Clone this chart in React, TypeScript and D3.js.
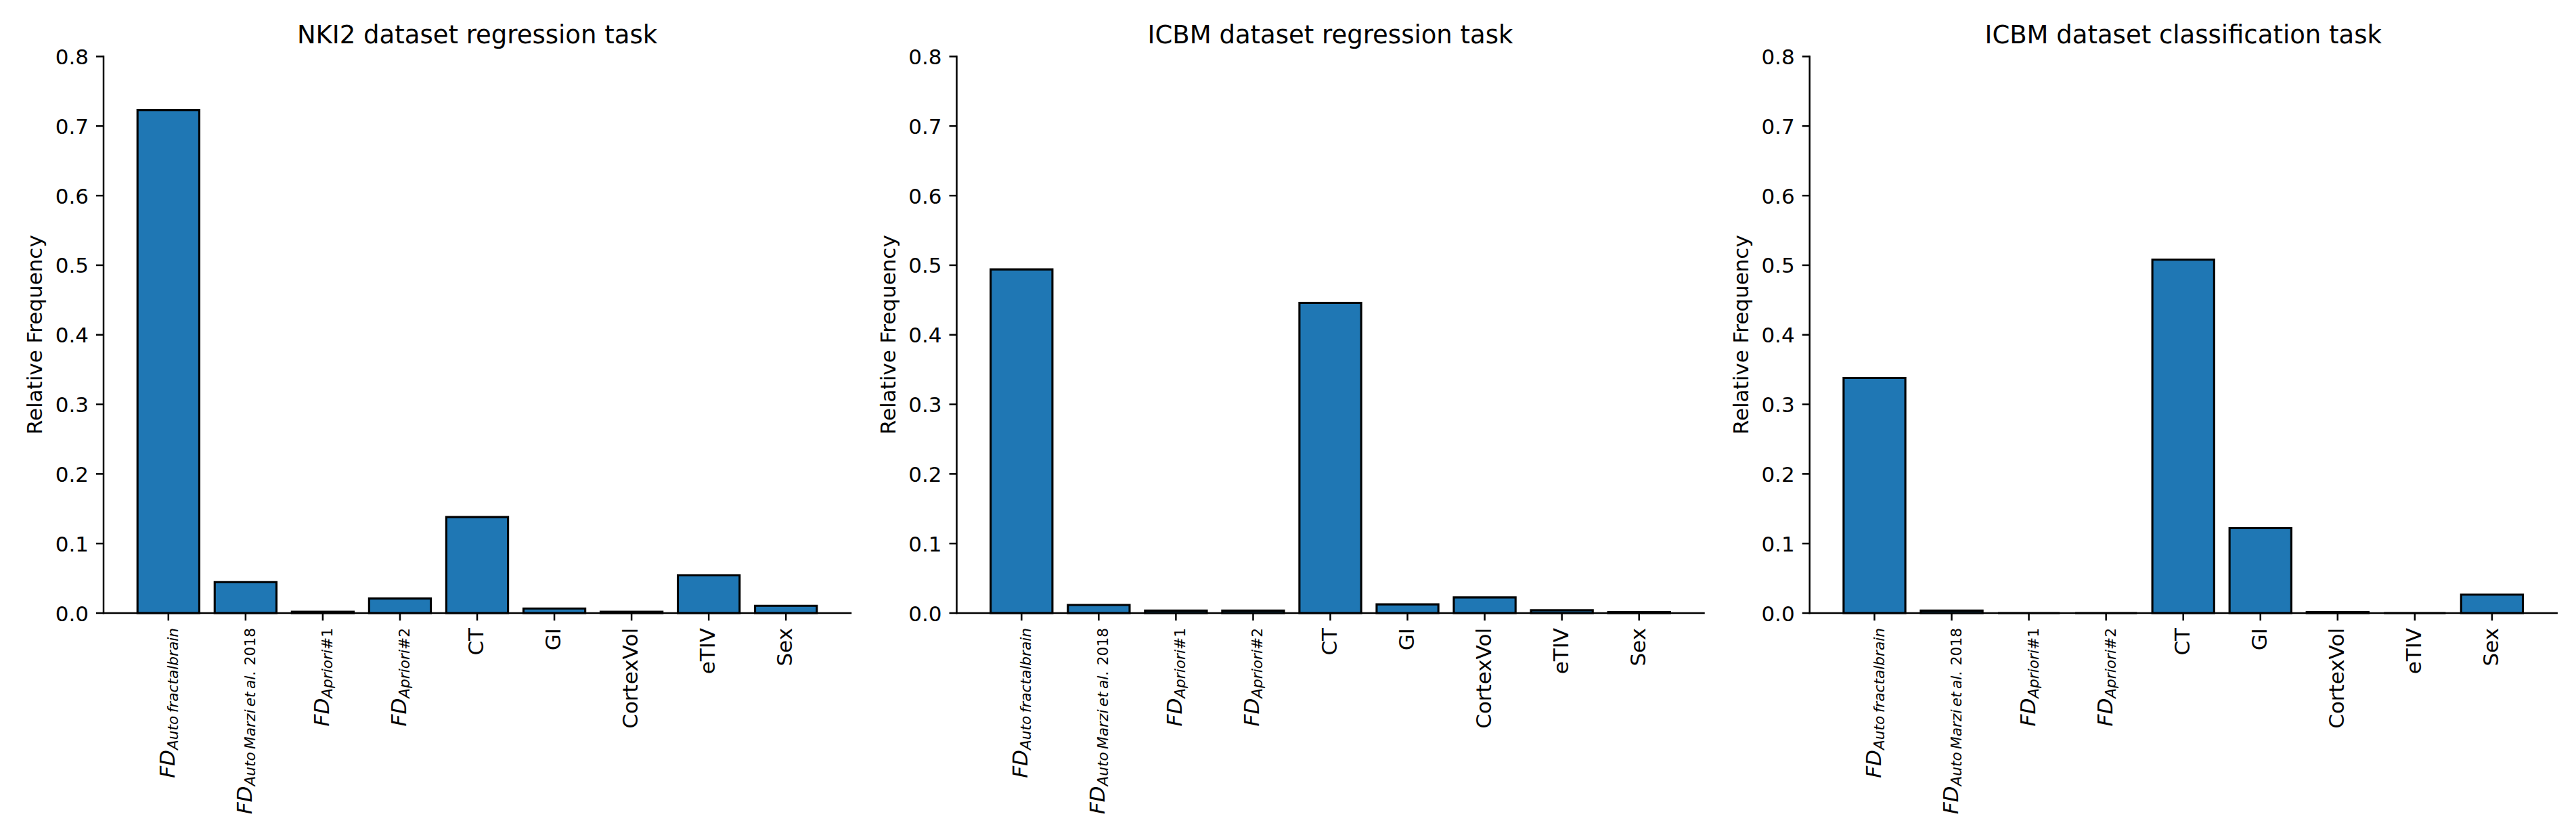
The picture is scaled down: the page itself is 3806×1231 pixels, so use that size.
import React from "react";
import * as d3 from "d3";

// ---------- data ----------
const categories = [
  "FD_Auto_fractalbrain",
  "FD_Auto_Marzi",
  "FD_Apriori1",
  "FD_Apriori2",
  "CT",
  "GI",
  "CortexVol",
  "eTIV",
  "Sex",
];

const panelTitles = [
  "NKI2 dataset regression task",
  "ICBM dataset regression task",
  "ICBM dataset classification task",
];

const nki2Regression = [0.723, 0.0445, 0.002, 0.021, 0.138, 0.0066, 0.002, 0.0545, 0.0104];
const icbmRegression = [0.494, 0.0117, 0.0035, 0.0035, 0.446, 0.0125, 0.0225, 0.004, 0.0015];
const icbmClassification = [0.338, 0.0035, 0, 0, 0.508, 0.122, 0.0015, 0, 0.0265];

const yTickValues = [0, 0.1, 0.2, 0.3, 0.4, 0.5, 0.6, 0.7, 0.8];
const yLabel = "Relative Frequency";

// label segments: [text, italic, role] role: "main" | "sub"
type Seg = { t: string; it: boolean; sub: boolean };
const tickLabelSegments: Record<string, Seg[]> = {
  FD_Auto_fractalbrain: [
    { t: "FD", it: true, sub: false },
    { t: "Auto\u2009fractalbrain", it: true, sub: true },
  ],
  FD_Auto_Marzi: [
    { t: "FD", it: true, sub: false },
    { t: "Auto\u2009Marzi\u2009et\u2009al", it: true, sub: true },
    { t: ".\u2009\u20092018", it: false, sub: true },
  ],
  FD_Apriori1: [
    { t: "FD", it: true, sub: false },
    { t: "Apriori", it: true, sub: true },
    { t: "#1", it: false, sub: true },
  ],
  FD_Apriori2: [
    { t: "FD", it: true, sub: false },
    { t: "Apriori", it: true, sub: true },
    { t: "#2", it: false, sub: true },
  ],
  CT: [{ t: "CT", it: false, sub: false }],
  GI: [{ t: "GI", it: false, sub: false }],
  CortexVol: [{ t: "CortexVol", it: false, sub: false }],
  eTIV: [{ t: "eTIV", it: false, sub: false }],
  Sex: [{ t: "Sex", it: false, sub: false }],
};

const panels = [
  { title: panelTitles[0], values: nki2Regression },
  { title: panelTitles[1], values: icbmRegression },
  { title: panelTitles[2], values: icbmClassification },
];

// ---------- layout ----------
const W = 3806;
const H = 1231;
const FONT = "'DejaVu Sans', sans-serif";
const axTop = 83.5;
const axBottom = 906;
const axWidth = 1104;
const axLefts = [153, 1413.5, 2673.7];
const barColor = "#1f77b4";

function Panel({ left, title, values }: { left: number; title: string; values: number[] }) {
  const n = categories.length;
  const x = d3.scaleLinear().domain([-0.84, n - 1 + 0.84]).range([left, left + axWidth]);
  const y = d3.scaleLinear().domain([0, 0.8]).range([axBottom, axTop]);
  const fmt = d3.format(".1f");
  const barW = 0.8;

  return (
    <g>
      {/* bars */}
      {values.map((v, i) => {
        const p = d3.path();
        const x0 = x(i - barW / 2);
        const x1 = x(i + barW / 2);
        const y0 = y(0);
        const y1 = y(v);
        p.moveTo(x0, y0);
        p.lineTo(x0, y1);
        p.lineTo(x1, y1);
        p.lineTo(x1, y0);
        p.closePath();
        return (
          <path
            key={categories[i]}
            d={p.toString()}
            fill={barColor}
            stroke="#000"
            strokeWidth={3.1}
            strokeLinejoin="miter"
          />
        );
      })}
      {/* spines */}
      <line x1={left} x2={left} y1={axTop} y2={axBottom} stroke="#000" strokeWidth={2.5} strokeLinecap="square" />
      <line x1={left} x2={left + axWidth} y1={axBottom} y2={axBottom} stroke="#000" strokeWidth={2.5} strokeLinecap="square" />
      {/* y ticks */}
      {yTickValues.map((t) => (
        <g key={t}>
          <line x1={left - 11} x2={left} y1={y(t)} y2={y(t)} stroke="#000" strokeWidth={2.5} />
          <text
            x={left - 22}
            y={y(t) + 11.5}
            textAnchor="end"
            fontFamily={FONT}
            fontSize={31}
            fill="#000"
          >
            {fmt(t)}
          </text>
        </g>
      ))}
      {/* x ticks */}
      {categories.map((c, i) => {
        const cx = x(i);
        const segs = tickLabelSegments[c];
        let subStarted = false;
        return (
          <g key={c}>
            <line x1={cx} x2={cx} y1={axBottom} y2={axBottom + 11} stroke="#000" strokeWidth={2.5} />
            <text
              transform={`translate(${cx + 9},${axBottom + 22}) rotate(-90)`}
              textAnchor="end"
              fontFamily={FONT}
              fontSize={31}
              fill="#000"
              style={{ whiteSpace: "pre" }}
            >
              {segs.map((s, k) => {
                const props: any = {};
                if (s.sub && !subStarted) {
                  props.dy = 5;
                  subStarted = true;
                }
                return (
                  <tspan
                    key={k}
                    {...props}
                    fontSize={s.sub ? 21.7 : 31}
                    fontStyle={s.it ? "italic" : "normal"}
                  >
                    {s.t}
                  </tspan>
                );
              })}
            </text>
          </g>
        );
      })}
      {/* y label */}
      <text
        transform={`translate(${left - 91},${(axTop + axBottom) / 2}) rotate(-90)`}
        textAnchor="middle"
        fontFamily={FONT}
        fontSize={31}
        fill="#000"
      >
        {yLabel}
      </text>
      {/* title */}
      <text
        x={left + axWidth / 2}
        y={64}
        textAnchor="middle"
        fontFamily={FONT}
        fontSize={37}
        fill="#000"
      >
        {title}
      </text>
    </g>
  );
}

export default function App() {
  return (
    <svg
      width={W}
      height={H}
      viewBox={`0 0 ${W} ${H}`}
      style={{ position: "absolute", left: 0, top: 0, display: "block" }}
    >
      <rect x={0} y={0} width={W} height={H} fill="#fff" />
      {panels.map((p, i) => (
        <Panel key={p.title} left={axLefts[i]} title={p.title} values={p.values} />
      ))}
    </svg>
  );
}
